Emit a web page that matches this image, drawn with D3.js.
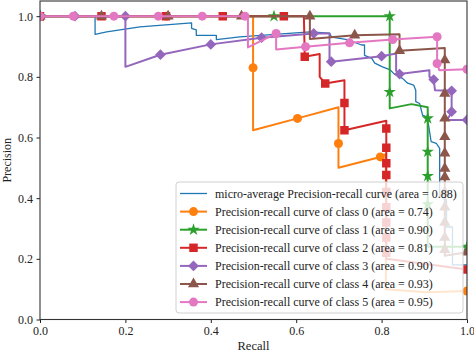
<!DOCTYPE html>
<html lang="en">
<head>
<meta charset="UTF-8">
<title>Precision-recall curves</title>
<script src="https://d3js.org/d3.v7.min.js"></script>
<style>
  body { margin: 0; background: #fff; }
  text { font-family: "Liberation Serif", "Times New Roman", serif; fill: #222; }
</style>
</head>
<body>
<div id="chart"></div>
<script>
    // values (recall, precision, indices that carry a marker)
    var recallMicro = [0, 0.129, 0.129, 0.156, 0.234, 0.355, 0.355, 0.366, 0.366, 0.413, 0.413, 0.468, 0.632, 0.678, 0.683, 0.720, 0.753, 0.760, 0.760, 0.777, 0.784, 0.802, 0.819, 0.830, 0.849, 0.861, 0.875, 0.880, 0.880, 0.889, 0.896, 0.905, 0.910, 0.916, 0.928, 0.936, 0.936, 0.952, 0.952, 0.966, 0.966, 1.0];
    var precisionMicro = [1, 1, 0.94, 0.948, 0.965, 0.978, 0.96, 0.955, 0.937, 0.937, 0.923, 0.932, 0.948, 0.944, 0.931, 0.923, 0.905, 0.905, 0.871, 0.861, 0.845, 0.833, 0.824, 0.809, 0.795, 0.779, 0.773, 0.756, 0.718, 0.712, 0.674, 0.668, 0.641, 0.586, 0.581, 0.564, 0.410, 0.394, 0.305, 0.305, 0.180, 0.180];

    var recall0 = [0, 0.296, 0.499, 0.499, 0.499, 0.603, 0.699, 0.699, 0.699, 0.797, 0.81, 0.81, 0.905, 1.0];
    var precision0 = [1, 1, 1, 0.83, 0.624, 0.663, 0.70, 0.58, 0.50, 0.536, 0.545, 0.10, 0.09, 0.094];
    var marks0 = [0, 1, 3, 5, 7, 9, 13];

    var recall1 = [0, 0.548, 0.819, 0.819, 0.819, 0.87, 0.908, 0.908, 0.908, 0.908, 0.908, 0.908, 1.0];
    var precision1 = [1, 1, 1, 0.75, 0.696, 0.71, 0.70, 0.663, 0.553, 0.473, 0.38, 0.24, 0.24];
    var marks1 = [0, 1, 2, 3, 7, 8, 9, 10, 12];

    var recall2 = [0, 0.144, 0.295, 0.428, 0.571, 0.618, 0.62, 0.655, 0.655, 0.668, 0.713, 0.713, 0.713, 0.811, 0.811, 0.811, 0.811, 0.811, 0.811, 0.811, 0.811, 0.811, 0.811, 0.811, 1.0];
    var precision2 = [1, 1, 1, 1, 1, 1, 0.866, 0.875, 0.80, 0.778, 0.789, 0.714, 0.624, 0.655, 0.63, 0.566, 0.515, 0.476, 0.42, 0.37, 0.32, 0.27, 0.22, 0.20, 0.165];
    var marks2 = [0, 1, 2, 3, 4, 6, 9, 11, 12, 14, 15, 16, 17, 18, 19, 20, 21, 22, 24];

    var recall3 = [0, 0.082, 0.2, 0.2, 0.282, 0.40, 0.519, 0.641, 0.678, 0.678, 0.682, 0.80, 0.834, 0.834, 0.842, 0.912, 0.912, 0.922, 0.925, 0.964, 0.964, 0.954, 1.0];
    var precision3 = [1, 1, 1, 0.833, 0.873, 0.907, 0.929, 0.943, 0.943, 0.855, 0.85, 0.868, 0.877, 0.82, 0.809, 0.822, 0.80, 0.791, 0.756, 0.754, 0.685, 0.658, 0.658];
    var marks3 = [0, 1, 2, 4, 5, 6, 7, 10, 11, 14, 17, 19, 20, 22];

    var recall4 = [0, 0.144, 0.30, 0.472, 0.632, 0.632, 0.737, 0.842, 0.842, 0.948, 0.948, 0.948, 0.948, 0.948, 0.948, 0.948, 0.948, 0.948, 0.948, 0.948, 0.948, 0.948, 0.948, 1.0];
    var precision4 = [1, 1, 1, 1, 1, 0.925, 0.937, 0.94, 0.886, 0.895, 0.855, 0.745, 0.663, 0.602, 0.548, 0.498, 0.47, 0.42, 0.37, 0.32, 0.27, 0.23, 0.21, 0.222];
    var marks4 = [0, 1, 2, 3, 4, 6, 8, 10, 11, 12, 13, 14, 15, 16, 17, 18, 19, 20, 21, 23];

    var recall5 = [0, 0.078, 0.173, 0.277, 0.38, 0.48, 0.487, 0.487, 0.553, 0.553, 0.622, 0.725, 0.826, 0.93, 0.93, 0.935, 1.0];
    var precision5 = [1, 1, 1, 1, 1, 1, 1, 0.897, 0.943, 0.89, 0.899, 0.912, 0.923, 0.932, 0.844, 0.822, 0.825];
    var marks5 = [0, 1, 2, 3, 4, 5, 8, 10, 11, 12, 13, 14, 16];

    var curveNames = ["micro-average Precision-recall curve", "Precision-recall curve of class 0",
        "Precision-recall curve of class 1", "Precision-recall curve of class 2",
        "Precision-recall curve of class 3", "Precision-recall curve of class 4",
        "Precision-recall curve of class 5"];
    var curveAreas = [0.88, 0.74, 0.90, 0.81, 0.90, 0.93, 0.95];
    var tickValues = [0, 0.2, 0.4, 0.6, 0.8, 1.0];

    var colors = ["#1f77b4", "#ff7f0e", "#2ca02c", "#d62728", "#9467bd", "#8c564b", "#e377c2"];
    var symbols = [null, d3.symbolCircle, d3.symbolStar, d3.symbolSquare, d3.symbolSquare, d3.symbolTriangle, d3.symbolCircle];
    var symbolSizes = [0, 64, 48, 72, 58, 54, 64];
    var symbolRotate = [0, 0, 0, 0, 45, 0, 0];

    var series = [
        {r: recallMicro, p: precisionMicro, marks: [], width: 1.3},
        {r: recall0, p: precision0, marks: marks0, width: 2},
        {r: recall1, p: precision1, marks: marks1, width: 2},
        {r: recall2, p: precision2, marks: marks2, width: 2},
        {r: recall3, p: precision3, marks: marks3, width: 2},
        {r: recall4, p: precision4, marks: marks4, width: 2},
        {r: recall5, p: precision5, marks: marks5, width: 2}
    ];

    var W = 474, H = 353;
    var margin = {top: 1, right: 7, bottom: 33.5, left: 40};
    var width = W - margin.left - margin.right,
        height = H - margin.top - margin.bottom;

    var svg = d3.select("#chart").append("svg")
        .attr("width", W)
        .attr("height", H);

    var g = svg.append("g")
        .attr("transform", "translate(" + margin.left + "," + margin.top + ")");

    var x = d3.scaleLinear().domain([0, 1]).range([0, width]);
    var y = d3.scaleLinear().domain([0, 1.05]).range([height, 0]);

    g.append("clipPath").attr("id", "plotclip")
        .append("rect").attr("width", width).attr("height", height);

    var plot = g.append("g").attr("clip-path", "url(#plotclip)");

    var line = d3.line()
        .x(function (d) { return x(d[0]); })
        .y(function (d) { return y(d[1]); });

    function symbolPath(i) {
        if (!symbols[i]) return null;
        return d3.symbol().type(symbols[i]).size(symbolSizes[i])();
    }

    series.forEach(function (s, i) {
        var pts = s.r.map(function (r, k) { return [r, s.p[k]]; });
        plot.append("path")
            .datum(pts)
            .attr("fill", "none")
            .attr("stroke", colors[i])
            .attr("stroke-width", s.width)
            .attr("stroke-linejoin", "round")
            .attr("d", line);
        if (!symbols[i]) return;
        plot.selectAll(".m" + i)
            .data(s.marks.map(function (k) { return pts[k]; }))
            .enter().append("path")
            .attr("class", "m" + i)
            .attr("transform", function (d) {
                return "translate(" + x(d[0]) + "," + y(d[1]) + ") rotate(" + symbolRotate[i] + ")";
            })
            .attr("d", symbolPath(i))
            .attr("fill", colors[i]);
    });

    // axes
    var fmt = d3.format(".1f");
    var xAxis = g.append("g")
        .attr("transform", "translate(0," + height + ")")
        .call(d3.axisBottom(x).tickValues(tickValues).tickFormat(fmt).tickSize(3.5).tickPadding(3.5));
    var yAxis = g.append("g")
        .call(d3.axisLeft(y).tickValues(tickValues).tickFormat(fmt).tickSize(3.5).tickPadding(3.5));
    [xAxis, yAxis].forEach(function (a) {
        a.select(".domain").remove();
        a.selectAll("line").attr("stroke", "#222");
        a.selectAll("text").attr("font-size", 12).attr("font-family", "Liberation Serif").attr("fill", "#222");
    });

    g.append("rect")
        .attr("width", width).attr("height", height)
        .attr("fill", "none").attr("stroke", "#333").attr("stroke-width", 1.1);

    g.append("text")
        .attr("x", width / 2).attr("y", height + 30)
        .attr("text-anchor", "middle")
        .attr("font-size", 12.5)
        .text("Recall");

    g.append("text")
        .attr("transform", "translate(" + (-29) + "," + (height / 2) + ") rotate(-90)")
        .attr("text-anchor", "middle")
        .attr("font-size", 12)
        .text("Precision");

    // legend
    var legend = g.append("g").attr("transform", "translate(" + (176 - margin.left) + "," + (182 - margin.top) + ")");
    legend.append("rect")
        .attr("width", 287).attr("height", 131)
        .attr("rx", 3)
        .attr("fill", "#fff").attr("fill-opacity", 0.8)
        .attr("stroke", "#d0d0d0").attr("stroke-width", 1);

    var legendTexts = [];
    curveNames.forEach(function (name, i) {
        var rowY = 11.5 + i * 18.1;
        legend.append("line")
            .attr("x1", 4).attr("x2", 31)
            .attr("y1", rowY).attr("y2", rowY)
            .attr("stroke", colors[i]).attr("stroke-width", series[i].width);
        if (symbols[i]) {
            legend.append("path")
                .attr("transform", "translate(17.5," + rowY + ") rotate(" + symbolRotate[i] + ")")
                .attr("d", symbolPath(i))
                .attr("fill", colors[i]);
        }
        legendTexts.push(legend.append("g")
            .attr("transform", "translate(39," + rowY + ")")
            .append("text")
            .attr("dy", "0.35em")
            .attr("font-size", 12.3)
            .text(name + " (area = " + curveAreas[i].toFixed(2) + ")"));
    });
    // the reference text runs a little wider than the font's own width
    var k = 242 / legendTexts[0].node().getComputedTextLength();
    legendTexts.forEach(function (t) {
        t.attr("transform", "scale(" + k + ",1)");
    });
</script>
</body>
</html>
